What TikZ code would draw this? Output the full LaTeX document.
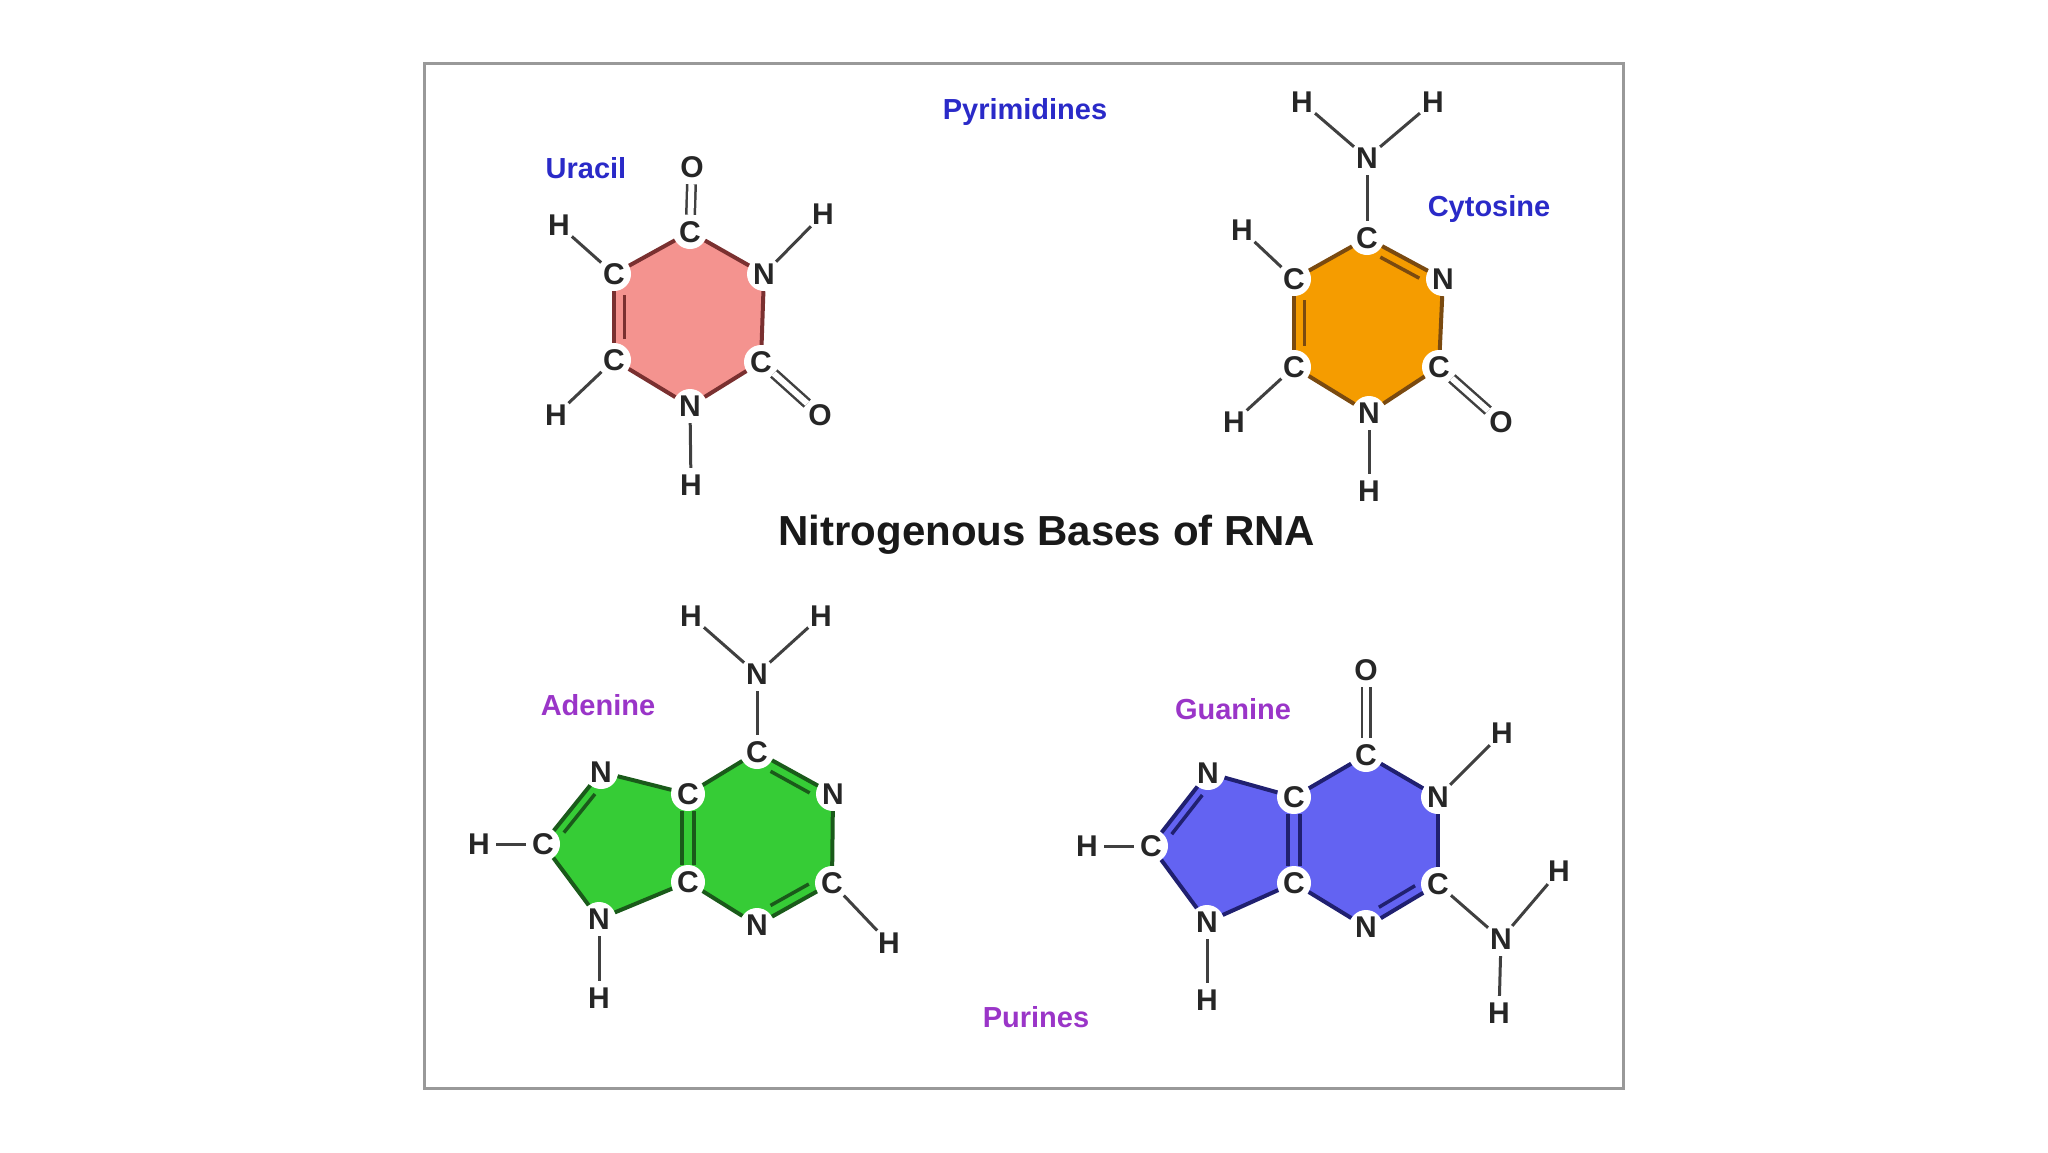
\documentclass[tikz,border=0pt]{standalone}
\usepackage{fontspec}
\setmainfont{Liberation Sans}
\usetikzlibrary{calc,backgrounds}
\definecolor{uf}{HTML}{F4938F}\definecolor{ue}{HTML}{7A3030}
\definecolor{cf}{HTML}{F59C00}\definecolor{ce}{HTML}{7A4A10}
\definecolor{af}{HTML}{36CC36}\definecolor{ae}{HTML}{1A5A1A}
\definecolor{gf}{HTML}{6363F2}\definecolor{ge}{HTML}{202070}
\definecolor{bluet}{HTML}{2A2AC8}\definecolor{purp}{HTML}{9A35C8}
\tikzset{
 atom/.style={circle, fill=white, inner sep=0pt, minimum size=34pt, font=\fontsize{30}{30}\selectfont\bfseries, text=black!85},
 sub/.style={circle, inner sep=0pt, minimum size=34pt, font=\fontsize{30}{30}\selectfont\bfseries, text=black!85},
 bond/.style={line width=3pt, draw=black!75},
 dbo/.style={double, double distance=6pt, line width=2.5pt, draw=black!75},
 lab/.style={font=\fontsize{29}{29}\selectfont\bfseries},
}
\newcommand{\inner}[4]{\draw[line width=3.5pt,#4,shorten <=15pt,shorten >=15pt] ($(#1)!0.14!(#3)$) -- ($(#2)!0.14!(#3)$);}
\newcommand{\fused}[3]{%
\draw[line width=4pt,#3,shorten <=17pt,shorten >=17pt] ($(#1)+(-6,0)$)--($(#2)+(-6,0)$);
\draw[line width=4pt,#3,shorten <=17pt,shorten >=17pt] ($(#1)+(6,0)$)--($(#2)+(6,0)$);}
\begin{document}
\begin{tikzpicture}[x=1pt,y=-1pt]
\useasboundingbox (0,0) rectangle (2048,1152);
\draw[line width=3pt, draw=black!40] (424,63) rectangle (1623,1088);
\node[lab,text=bluet] (pyr) at (1025,112) {Pyrimidines};
\node[lab,text=purp] (pur) at (1036,1017) {Purines};
\node[font=\fontsize{42}{42}\selectfont\bfseries, text=black!90] (title) at (1047,535) {Nitrogenous Bases of RNA};
% ---------- Uracil
\node[lab,text=bluet] (ul) at (586,168) {Uracil};
\node[atom] (u1) at (690,232) {C};
\node[atom] (u2) at (764,274) {N};
\node[atom] (u3) at (761,362) {C};
\node[atom] (u4) at (690,406) {N};
\node[atom] (u5) at (614,360) {C};
\node[atom] (u6) at (614,274) {C};
\coordinate (uc) at (689,318);
\node[sub] (uO1) at (692,167) {O};
\node[sub] (uH2) at (823,214) {H};
\node[sub] (uO3) at (820,415) {O};
\node[sub] (uH4) at (691,485) {H};
\node[sub] (uH5) at (556,415) {H};
\node[sub] (uH6) at (559,225) {H};
\begin{scope}[on background layer]
\fill[uf] (u1.center)--(u2.center)--(u3.center)--(u4.center)--(u5.center)--(u6.center)--cycle;
\end{scope}
\foreach \a/\b in {u1/u2,u2/u3,u3/u4,u4/u5,u5/u6,u6/u1} \draw[line width=4pt,ue] (\a)--(\b);
\inner{u5}{u6}{uc}{ue}
\draw[dbo] (u1)--(uO1); \draw[dbo] (u3)--(uO3);
\draw[bond] (u2)--(uH2); \draw[bond] (u4)--(uH4); \draw[bond] (u5)--(uH5); \draw[bond] (u6)--(uH6);
% ---------- Cytosine
\node[lab,text=bluet] (cl) at (1489,209) {Cytosine};
\node[atom] (c1) at (1367,238) {C};
\node[atom] (c2) at (1443,279) {N};
\node[atom] (c3) at (1439,367) {C};
\node[atom] (c4) at (1369,413) {N};
\node[atom] (c5) at (1294,367) {C};
\node[atom] (c6) at (1294,279) {C};
\coordinate (cc) at (1368,324);
\node[sub] (cN) at (1367,158) {N};
\node[sub] (cHa) at (1302,102) {H};
\node[sub] (cHb) at (1433,102) {H};
\node[sub] (cO) at (1501,422) {O};
\node[sub] (cH4) at (1369,491) {H};
\node[sub] (cH5) at (1234,422) {H};
\node[sub] (cH6) at (1242,230) {H};
\begin{scope}[on background layer]
\fill[cf] (c1.center)--(c2.center)--(c3.center)--(c4.center)--(c5.center)--(c6.center)--cycle;
\end{scope}
\foreach \a/\b in {c1/c2,c2/c3,c3/c4,c4/c5,c5/c6,c6/c1} \draw[line width=4pt,ce] (\a)--(\b);
\inner{c5}{c6}{cc}{ce}
\inner{c1}{c2}{cc}{ce}
\draw[dbo] (c3)--(cO);
\draw[bond] (c1)--(cN); \draw[bond] (cN)--(cHa); \draw[bond] (cN)--(cHb);
\draw[bond] (c4)--(cH4); \draw[bond] (c5)--(cH5); \draw[bond] (c6)--(cH6);
% ---------- Adenine
\node[lab,text=purp] (al) at (598,705) {Adenine};
\node[atom] (a6) at (757,752) {C};
\node[atom] (a1) at (833,794) {N};
\node[atom] (a2) at (832,883) {C};
\node[atom] (a3) at (757,925) {N};
\node[atom] (a4) at (688,882) {C};
\node[atom] (a5) at (688,794) {C};
\node[atom] (a7) at (601,772) {N};
\node[atom] (a8) at (543,844) {C};
\node[atom] (a9) at (599,919) {N};
\coordinate (ac6) at (760,838);
\coordinate (ac5) at (625,846);
\node[sub] (aN) at (757,674) {N};
\node[sub] (aHa) at (691,616) {H};
\node[sub] (aHb) at (821,616) {H};
\node[sub] (aH2) at (889,943) {H};
\node[sub] (aH8) at (479,844) {H};
\node[sub] (aH9) at (599,998) {H};
\begin{scope}[on background layer]
\fill[af] (a6.center)--(a1.center)--(a2.center)--(a3.center)--(a4.center)--(a5.center)--cycle;
\fill[af] (a5.center)--(a7.center)--(a8.center)--(a9.center)--(a4.center)--cycle;
\end{scope}
\foreach \a/\b in {a6/a1,a1/a2,a2/a3,a3/a4,a5/a6,a5/a7,a7/a8,a8/a9,a9/a4} \draw[line width=4pt,ae] (\a)--(\b);
\fused{a5}{a4}{ae}
\inner{a6}{a1}{ac6}{ae}
\inner{a2}{a3}{ac6}{ae}
\inner{a7}{a8}{ac5}{ae}
\draw[bond] (a6)--(aN); \draw[bond] (aN)--(aHa); \draw[bond] (aN)--(aHb);
\draw[bond] (a2)--(aH2); \draw[bond] (a8)--(aH8); \draw[bond] (a9)--(aH9);
% ---------- Guanine
\node[lab,text=purp] (gl) at (1233,709) {Guanine};
\node[atom] (g6) at (1366,755) {C};
\node[atom] (g1) at (1438,797) {N};
\node[atom] (g2) at (1438,884) {C};
\node[atom] (g3) at (1366,927) {N};
\node[atom] (g4) at (1294,883) {C};
\node[atom] (g5) at (1294,797) {C};
\node[atom] (g7) at (1208,773) {N};
\node[atom] (g8) at (1151,846) {C};
\node[atom] (g9) at (1207,922) {N};
\coordinate (gc6) at (1366,841);
\coordinate (gc5) at (1233,846);
\node[sub] (gO) at (1366,670) {O};
\node[sub] (gH1) at (1502,733) {H};
\node[sub] (gN2) at (1501,939) {N};
\node[sub] (gHa) at (1559,871) {H};
\node[sub] (gHb) at (1499,1013) {H};
\node[sub] (gH8) at (1087,846) {H};
\node[sub] (gH9) at (1207,1000) {H};
\begin{scope}[on background layer]
\fill[gf] (g6.center)--(g1.center)--(g2.center)--(g3.center)--(g4.center)--(g5.center)--cycle;
\fill[gf] (g5.center)--(g7.center)--(g8.center)--(g9.center)--(g4.center)--cycle;
\end{scope}
\foreach \a/\b in {g6/g1,g1/g2,g2/g3,g3/g4,g5/g6,g5/g7,g7/g8,g8/g9,g9/g4} \draw[line width=4pt,ge] (\a)--(\b);
\fused{g5}{g4}{ge}
\inner{g2}{g3}{gc6}{ge}
\inner{g7}{g8}{gc5}{ge}
\draw[dbo] (g6)--(gO);
\draw[bond] (g1)--(gH1); \draw[bond] (g2)--(gN2); \draw[bond] (gN2)--(gHa); \draw[bond] (gN2)--(gHb);
\draw[bond] (g8)--(gH8); \draw[bond] (g9)--(gH9);
\end{tikzpicture}
\end{document}
